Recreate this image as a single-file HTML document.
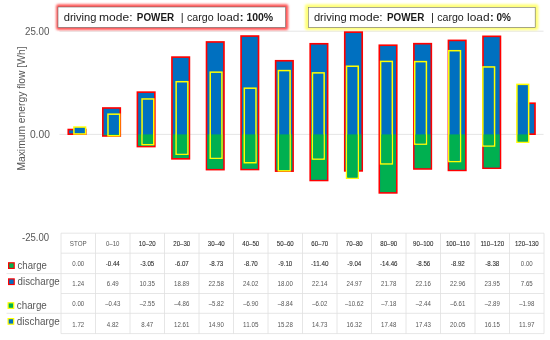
<!DOCTYPE html>
<html><head><meta charset="utf-8"><title>Maximum energy flow</title>
<style>html,body{margin:0;padding:0;background:#fff}svg{display:block;filter:blur(0.45px)}</style></head>
<body>
<svg width="550" height="340" viewBox="0 0 550 340" font-family="'Liberation Sans', sans-serif">
<defs><filter id="gl" x="-5%" y="-30%" width="110%" height="160%"><feGaussianBlur stdDeviation="0.8"/></filter></defs>
<rect width="550" height="340" fill="#fff"/>
<line x1="59.5" x2="543.5" y1="31.2" y2="31.2" stroke="#DEDEDE" stroke-width="0.8"/>
<line x1="59.5" x2="543.5" y1="134.4" y2="134.4" stroke="#DEDEDE" stroke-width="0.8"/>
<rect x="56.10" y="4.30" width="232.20" height="25.60" rx="2" fill="#FF5555" filter="url(#gl)"/>
<rect x="58" y="7.0" width="227.60" height="20.40" fill="#fff" stroke="#6b6b6b" stroke-width="0.6"/>
<rect x="305.00" y="4.30" width="233.40" height="25.70" rx="2" fill="#FFFF78" filter="url(#gl)"/>
<rect x="308.5" y="7.3" width="226.70" height="20.05" fill="#fff" stroke="#6b6b6b" stroke-width="0.6"/>
<text x="63.70" y="21.40" font-size="11.2" fill="#1a1a1a" textLength="32.80" lengthAdjust="spacingAndGlyphs">driving</text>
<text x="99.10" y="21.40" font-size="11.2" fill="#1a1a1a" textLength="33.40" lengthAdjust="spacingAndGlyphs">mode:</text>
<text x="136.80" y="21.40" font-size="11.2" fill="#1a1a1a" textLength="37.30" lengthAdjust="spacingAndGlyphs" font-weight="bold">POWER</text>
<text x="180.70" y="21.40" font-size="11.2" fill="#1a1a1a">|</text>
<text x="187.00" y="21.40" font-size="11.2" fill="#1a1a1a" textLength="26.60" lengthAdjust="spacingAndGlyphs">cargo</text>
<text x="216.90" y="21.40" font-size="11.2" fill="#1a1a1a" textLength="22.50" lengthAdjust="spacingAndGlyphs">load</text>
<text x="239.80" y="21.40" font-size="11.2" fill="#1a1a1a" font-weight="bold">:</text>
<text x="246.40" y="21.40" font-size="11.2" fill="#1a1a1a" textLength="26.80" lengthAdjust="spacingAndGlyphs" font-weight="bold">100%</text>
<text x="313.90" y="21.40" font-size="11.2" fill="#1a1a1a" textLength="32.80" lengthAdjust="spacingAndGlyphs">driving</text>
<text x="349.30" y="21.40" font-size="11.2" fill="#1a1a1a" textLength="33.40" lengthAdjust="spacingAndGlyphs">mode:</text>
<text x="387.00" y="21.40" font-size="11.2" fill="#1a1a1a" textLength="37.30" lengthAdjust="spacingAndGlyphs" font-weight="bold">POWER</text>
<text x="430.90" y="21.40" font-size="11.2" fill="#1a1a1a">|</text>
<text x="437.20" y="21.40" font-size="11.2" fill="#1a1a1a" textLength="26.60" lengthAdjust="spacingAndGlyphs">cargo</text>
<text x="467.10" y="21.40" font-size="11.2" fill="#1a1a1a" textLength="22.50" lengthAdjust="spacingAndGlyphs">load</text>
<text x="490.00" y="21.40" font-size="11.2" fill="#1a1a1a" font-weight="bold">:</text>
<text x="496.40" y="21.40" font-size="11.2" fill="#1a1a1a" textLength="14.40" lengthAdjust="spacingAndGlyphs" font-weight="bold">0%</text>
<rect x="67.45" y="128.71" width="19.1" height="6.29" fill="#FF0000"/>
<rect x="69.10" y="130.36" width="15.80" height="2.99" fill="#0070C0"/>
<rect x="102.01" y="107.17" width="19.1" height="29.62" fill="#FF0000"/>
<rect x="103.66" y="108.82" width="15.80" height="26.32" fill="#0070C0"/>
<rect x="103.66" y="134.40" width="15.80" height="0.74" fill="#00B050"/>
<rect x="136.57" y="91.32" width="19.1" height="56.06" fill="#FF0000"/>
<rect x="138.22" y="92.97" width="15.80" height="52.76" fill="#0070C0"/>
<rect x="138.22" y="134.40" width="15.80" height="11.33" fill="#00B050"/>
<rect x="171.13" y="56.28" width="19.1" height="103.37" fill="#FF0000"/>
<rect x="172.78" y="57.93" width="15.80" height="100.07" fill="#0070C0"/>
<rect x="172.78" y="134.40" width="15.80" height="23.59" fill="#00B050"/>
<rect x="205.69" y="41.13" width="19.1" height="129.31" fill="#FF0000"/>
<rect x="207.34" y="42.78" width="15.80" height="126.01" fill="#0070C0"/>
<rect x="207.34" y="134.40" width="15.80" height="34.39" fill="#00B050"/>
<rect x="240.25" y="35.22" width="19.1" height="135.10" fill="#FF0000"/>
<rect x="241.90" y="36.87" width="15.80" height="131.80" fill="#0070C0"/>
<rect x="241.90" y="134.40" width="15.80" height="34.27" fill="#00B050"/>
<rect x="274.81" y="59.93" width="19.1" height="112.02" fill="#FF0000"/>
<rect x="276.46" y="61.58" width="15.80" height="108.72" fill="#0070C0"/>
<rect x="276.46" y="134.40" width="15.80" height="35.90" fill="#00B050"/>
<rect x="309.37" y="42.94" width="19.1" height="138.35" fill="#FF0000"/>
<rect x="311.02" y="44.59" width="15.80" height="135.05" fill="#0070C0"/>
<rect x="311.02" y="134.40" width="15.80" height="45.23" fill="#00B050"/>
<rect x="343.93" y="31.32" width="19.1" height="140.38" fill="#FF0000"/>
<rect x="345.58" y="32.97" width="15.80" height="137.08" fill="#0070C0"/>
<rect x="345.58" y="134.40" width="15.80" height="35.65" fill="#00B050"/>
<rect x="378.49" y="44.41" width="19.1" height="149.29" fill="#FF0000"/>
<rect x="380.14" y="46.06" width="15.80" height="145.99" fill="#0070C0"/>
<rect x="380.14" y="134.40" width="15.80" height="57.66" fill="#00B050"/>
<rect x="413.05" y="42.86" width="19.1" height="126.90" fill="#FF0000"/>
<rect x="414.70" y="44.51" width="15.80" height="123.60" fill="#0070C0"/>
<rect x="414.70" y="134.40" width="15.80" height="33.70" fill="#00B050"/>
<rect x="447.61" y="39.57" width="19.1" height="131.64" fill="#FF0000"/>
<rect x="449.26" y="41.22" width="15.80" height="128.34" fill="#0070C0"/>
<rect x="449.26" y="134.40" width="15.80" height="35.17" fill="#00B050"/>
<rect x="482.17" y="35.51" width="19.1" height="133.51" fill="#FF0000"/>
<rect x="483.82" y="37.16" width="15.80" height="130.21" fill="#0070C0"/>
<rect x="483.82" y="134.40" width="15.80" height="32.97" fill="#00B050"/>
<rect x="516.73" y="102.40" width="19.1" height="32.60" fill="#FF0000"/>
<rect x="518.38" y="104.05" width="15.80" height="29.30" fill="#0070C0"/>
<rect x="73.15" y="126.33" width="13.2" height="8.37" fill="#FFFF00"/>
<rect x="74.65" y="127.83" width="10.20" height="5.37" fill="#0070C0"/>
<rect x="107.23" y="113.42" width="13.2" height="23.08" fill="#FFFF00"/>
<rect x="108.73" y="114.92" width="10.20" height="20.08" fill="#0070C0"/>
<rect x="108.73" y="134.40" width="10.20" height="0.59" fill="#00B050"/>
<rect x="141.31" y="98.21" width="13.2" height="47.13" fill="#FFFF00"/>
<rect x="142.81" y="99.71" width="10.20" height="44.13" fill="#0070C0"/>
<rect x="142.81" y="134.40" width="10.20" height="9.43" fill="#00B050"/>
<rect x="175.39" y="80.95" width="13.2" height="74.01" fill="#FFFF00"/>
<rect x="176.89" y="82.45" width="10.20" height="71.01" fill="#0070C0"/>
<rect x="176.89" y="134.40" width="10.20" height="19.07" fill="#00B050"/>
<rect x="209.47" y="71.41" width="13.2" height="87.56" fill="#FFFF00"/>
<rect x="210.97" y="72.91" width="10.20" height="84.56" fill="#0070C0"/>
<rect x="210.97" y="134.40" width="10.20" height="23.07" fill="#00B050"/>
<rect x="243.55" y="87.45" width="13.2" height="76.02" fill="#FFFF00"/>
<rect x="245.05" y="88.95" width="10.20" height="73.02" fill="#0070C0"/>
<rect x="245.05" y="134.40" width="10.20" height="27.57" fill="#00B050"/>
<rect x="277.63" y="69.83" width="13.2" height="101.73" fill="#FFFF00"/>
<rect x="279.13" y="71.33" width="10.20" height="98.73" fill="#0070C0"/>
<rect x="279.13" y="134.40" width="10.20" height="35.66" fill="#00B050"/>
<rect x="311.71" y="72.12" width="13.2" height="87.68" fill="#FFFF00"/>
<rect x="313.21" y="73.62" width="10.20" height="84.68" fill="#0070C0"/>
<rect x="313.21" y="134.40" width="10.20" height="23.90" fill="#00B050"/>
<rect x="345.79" y="65.49" width="13.2" height="113.49" fill="#FFFF00"/>
<rect x="347.29" y="66.99" width="10.20" height="110.49" fill="#0070C0"/>
<rect x="347.29" y="134.40" width="10.20" height="43.09" fill="#00B050"/>
<rect x="379.87" y="60.66" width="13.2" height="103.98" fill="#FFFF00"/>
<rect x="381.37" y="62.16" width="10.20" height="100.98" fill="#0070C0"/>
<rect x="381.37" y="134.40" width="10.20" height="28.74" fill="#00B050"/>
<rect x="413.95" y="60.87" width="13.2" height="84.01" fill="#FFFF00"/>
<rect x="415.45" y="62.37" width="10.20" height="81.01" fill="#0070C0"/>
<rect x="415.45" y="134.40" width="10.20" height="8.97" fill="#00B050"/>
<rect x="448.03" y="49.95" width="13.2" height="112.31" fill="#FFFF00"/>
<rect x="449.53" y="51.45" width="10.20" height="109.31" fill="#0070C0"/>
<rect x="449.53" y="134.40" width="10.20" height="26.36" fill="#00B050"/>
<rect x="482.11" y="66.20" width="13.2" height="80.55" fill="#FFFF00"/>
<rect x="483.61" y="67.70" width="10.20" height="77.55" fill="#0070C0"/>
<rect x="483.61" y="134.40" width="10.20" height="10.85" fill="#00B050"/>
<rect x="516.19" y="83.62" width="13.2" height="59.34" fill="#FFFF00"/>
<rect x="517.69" y="85.12" width="10.20" height="56.34" fill="#0070C0"/>
<rect x="517.69" y="134.40" width="10.20" height="7.06" fill="#00B050"/>
<text x="25.00" y="34.60" font-size="10.1" fill="#575757" textLength="24.40" lengthAdjust="spacingAndGlyphs">25.00</text>
<text x="29.90" y="138.00" font-size="10.1" fill="#575757" textLength="20.00" lengthAdjust="spacingAndGlyphs">0.00</text>
<text x="22.00" y="240.70" font-size="10.1" fill="#575757" textLength="27.10" lengthAdjust="spacingAndGlyphs">-25.00</text>
<text transform="translate(24.7,170.6) rotate(-90)" font-size="10.1" fill="#575757" textLength="124.1" lengthAdjust="spacingAndGlyphs">Maximum energy flow [Wh]</text>
<line x1="61.0" x2="544.0" y1="233.2" y2="233.2" stroke="#E0E0E0" stroke-width="0.8"/>
<line x1="61.0" x2="544.0" y1="253.2" y2="253.2" stroke="#E0E0E0" stroke-width="0.8"/>
<line x1="6.5" x2="544.0" y1="273.6" y2="273.6" stroke="#E0E0E0" stroke-width="0.8"/>
<line x1="61.0" x2="544.0" y1="293.5" y2="293.5" stroke="#E0E0E0" stroke-width="0.8"/>
<line x1="6.5" x2="544.0" y1="313.3" y2="313.3" stroke="#E0E0E0" stroke-width="0.8"/>
<line x1="61.0" x2="544.0" y1="333.6" y2="333.6" stroke="#E0E0E0" stroke-width="0.8"/>
<line x1="61.00" x2="61.00" y1="233.2" y2="333.6" stroke="#E0E0E0" stroke-width="0.8"/>
<line x1="95.50" x2="95.50" y1="233.2" y2="333.6" stroke="#E0E0E0" stroke-width="0.8"/>
<line x1="130.00" x2="130.00" y1="233.2" y2="333.6" stroke="#E0E0E0" stroke-width="0.8"/>
<line x1="164.50" x2="164.50" y1="233.2" y2="333.6" stroke="#E0E0E0" stroke-width="0.8"/>
<line x1="199.00" x2="199.00" y1="233.2" y2="333.6" stroke="#E0E0E0" stroke-width="0.8"/>
<line x1="233.50" x2="233.50" y1="233.2" y2="333.6" stroke="#E0E0E0" stroke-width="0.8"/>
<line x1="268.00" x2="268.00" y1="233.2" y2="333.6" stroke="#E0E0E0" stroke-width="0.8"/>
<line x1="302.50" x2="302.50" y1="233.2" y2="333.6" stroke="#E0E0E0" stroke-width="0.8"/>
<line x1="337.00" x2="337.00" y1="233.2" y2="333.6" stroke="#E0E0E0" stroke-width="0.8"/>
<line x1="371.50" x2="371.50" y1="233.2" y2="333.6" stroke="#E0E0E0" stroke-width="0.8"/>
<line x1="406.00" x2="406.00" y1="233.2" y2="333.6" stroke="#E0E0E0" stroke-width="0.8"/>
<line x1="440.50" x2="440.50" y1="233.2" y2="333.6" stroke="#E0E0E0" stroke-width="0.8"/>
<line x1="475.00" x2="475.00" y1="233.2" y2="333.6" stroke="#E0E0E0" stroke-width="0.8"/>
<line x1="509.50" x2="509.50" y1="233.2" y2="333.6" stroke="#E0E0E0" stroke-width="0.8"/>
<line x1="544.00" x2="544.00" y1="233.2" y2="333.6" stroke="#E0E0E0" stroke-width="0.8"/>
<text x="69.85" y="245.90" font-size="7.5" fill="#575757" textLength="16.80" lengthAdjust="spacingAndGlyphs">STOP</text>
<text x="72.31" y="266.10" font-size="6.9" fill="#575757" textLength="11.88" lengthAdjust="spacingAndGlyphs">0.00</text>
<text x="72.31" y="286.00" font-size="6.9" fill="#575757" textLength="11.88" lengthAdjust="spacingAndGlyphs">1.24</text>
<text x="72.31" y="306.20" font-size="6.9" fill="#575757" textLength="11.88" lengthAdjust="spacingAndGlyphs">0.00</text>
<text x="72.31" y="326.50" font-size="6.9" fill="#575757" textLength="11.88" lengthAdjust="spacingAndGlyphs">1.72</text>
<text x="105.99" y="245.90" font-size="6.9" fill="#575757" textLength="13.53" lengthAdjust="spacingAndGlyphs">0–10</text>
<text x="105.70" y="266.10" font-size="6.9" fill="#2a2a2a" textLength="14.09" lengthAdjust="spacingAndGlyphs" stroke="#2a2a2a" stroke-width="0.08">-0.44</text>
<text x="106.81" y="286.00" font-size="6.9" fill="#575757" textLength="11.88" lengthAdjust="spacingAndGlyphs">6.49</text>
<text x="105.14" y="306.20" font-size="6.9" fill="#575757" textLength="15.22" lengthAdjust="spacingAndGlyphs">–0.43</text>
<text x="106.81" y="326.50" font-size="6.9" fill="#575757" textLength="11.88" lengthAdjust="spacingAndGlyphs">4.82</text>
<text x="138.79" y="245.90" font-size="6.9" fill="#2a2a2a" textLength="16.92" lengthAdjust="spacingAndGlyphs" stroke="#2a2a2a" stroke-width="0.08">10–20</text>
<text x="140.20" y="266.10" font-size="6.9" fill="#2a2a2a" textLength="14.09" lengthAdjust="spacingAndGlyphs" stroke="#2a2a2a" stroke-width="0.08">-3.05</text>
<text x="139.61" y="286.00" font-size="6.9" fill="#575757" textLength="15.28" lengthAdjust="spacingAndGlyphs">10.35</text>
<text x="139.64" y="306.20" font-size="6.9" fill="#575757" textLength="15.22" lengthAdjust="spacingAndGlyphs">–2.55</text>
<text x="141.31" y="326.50" font-size="6.9" fill="#575757" textLength="11.88" lengthAdjust="spacingAndGlyphs">8.47</text>
<text x="173.29" y="245.90" font-size="6.9" fill="#2a2a2a" textLength="16.92" lengthAdjust="spacingAndGlyphs" stroke="#2a2a2a" stroke-width="0.08">20–30</text>
<text x="174.70" y="266.10" font-size="6.9" fill="#2a2a2a" textLength="14.09" lengthAdjust="spacingAndGlyphs" stroke="#2a2a2a" stroke-width="0.08">-6.07</text>
<text x="174.11" y="286.00" font-size="6.9" fill="#575757" textLength="15.28" lengthAdjust="spacingAndGlyphs">18.89</text>
<text x="174.14" y="306.20" font-size="6.9" fill="#575757" textLength="15.22" lengthAdjust="spacingAndGlyphs">–4.86</text>
<text x="174.11" y="326.50" font-size="6.9" fill="#575757" textLength="15.28" lengthAdjust="spacingAndGlyphs">12.61</text>
<text x="207.79" y="245.90" font-size="6.9" fill="#2a2a2a" textLength="16.92" lengthAdjust="spacingAndGlyphs" stroke="#2a2a2a" stroke-width="0.08">30–40</text>
<text x="209.20" y="266.10" font-size="6.9" fill="#2a2a2a" textLength="14.09" lengthAdjust="spacingAndGlyphs" stroke="#2a2a2a" stroke-width="0.08">-8.73</text>
<text x="208.61" y="286.00" font-size="6.9" fill="#575757" textLength="15.28" lengthAdjust="spacingAndGlyphs">22.58</text>
<text x="208.64" y="306.20" font-size="6.9" fill="#575757" textLength="15.22" lengthAdjust="spacingAndGlyphs">–5.82</text>
<text x="208.61" y="326.50" font-size="6.9" fill="#575757" textLength="15.28" lengthAdjust="spacingAndGlyphs">14.90</text>
<text x="242.29" y="245.90" font-size="6.9" fill="#2a2a2a" textLength="16.92" lengthAdjust="spacingAndGlyphs" stroke="#2a2a2a" stroke-width="0.08">40–50</text>
<text x="243.70" y="266.10" font-size="6.9" fill="#2a2a2a" textLength="14.09" lengthAdjust="spacingAndGlyphs" stroke="#2a2a2a" stroke-width="0.08">-8.70</text>
<text x="243.11" y="286.00" font-size="6.9" fill="#575757" textLength="15.28" lengthAdjust="spacingAndGlyphs">24.02</text>
<text x="243.14" y="306.20" font-size="6.9" fill="#575757" textLength="15.22" lengthAdjust="spacingAndGlyphs">–6.90</text>
<text x="243.11" y="326.50" font-size="6.9" fill="#575757" textLength="15.28" lengthAdjust="spacingAndGlyphs">11.05</text>
<text x="276.79" y="245.90" font-size="6.9" fill="#2a2a2a" textLength="16.92" lengthAdjust="spacingAndGlyphs" stroke="#2a2a2a" stroke-width="0.08">50–60</text>
<text x="278.20" y="266.10" font-size="6.9" fill="#2a2a2a" textLength="14.09" lengthAdjust="spacingAndGlyphs" stroke="#2a2a2a" stroke-width="0.08">-9.10</text>
<text x="277.61" y="286.00" font-size="6.9" fill="#575757" textLength="15.28" lengthAdjust="spacingAndGlyphs">18.00</text>
<text x="277.64" y="306.20" font-size="6.9" fill="#575757" textLength="15.22" lengthAdjust="spacingAndGlyphs">–8.84</text>
<text x="277.61" y="326.50" font-size="6.9" fill="#575757" textLength="15.28" lengthAdjust="spacingAndGlyphs">15.28</text>
<text x="311.29" y="245.90" font-size="6.9" fill="#2a2a2a" textLength="16.92" lengthAdjust="spacingAndGlyphs" stroke="#2a2a2a" stroke-width="0.08">60–70</text>
<text x="311.01" y="266.10" font-size="6.9" fill="#2a2a2a" textLength="17.49" lengthAdjust="spacingAndGlyphs" stroke="#2a2a2a" stroke-width="0.08">-11.40</text>
<text x="312.11" y="286.00" font-size="6.9" fill="#575757" textLength="15.28" lengthAdjust="spacingAndGlyphs">22.14</text>
<text x="312.14" y="306.20" font-size="6.9" fill="#575757" textLength="15.22" lengthAdjust="spacingAndGlyphs">–6.02</text>
<text x="312.11" y="326.50" font-size="6.9" fill="#575757" textLength="15.28" lengthAdjust="spacingAndGlyphs">14.73</text>
<text x="345.79" y="245.90" font-size="6.9" fill="#2a2a2a" textLength="16.92" lengthAdjust="spacingAndGlyphs" stroke="#2a2a2a" stroke-width="0.08">70–80</text>
<text x="347.20" y="266.10" font-size="6.9" fill="#2a2a2a" textLength="14.09" lengthAdjust="spacingAndGlyphs" stroke="#2a2a2a" stroke-width="0.08">-9.04</text>
<text x="346.61" y="286.00" font-size="6.9" fill="#575757" textLength="15.28" lengthAdjust="spacingAndGlyphs">24.97</text>
<text x="344.94" y="306.20" font-size="6.9" fill="#575757" textLength="18.61" lengthAdjust="spacingAndGlyphs">–10.62</text>
<text x="346.61" y="326.50" font-size="6.9" fill="#575757" textLength="15.28" lengthAdjust="spacingAndGlyphs">16.32</text>
<text x="380.29" y="245.90" font-size="6.9" fill="#2a2a2a" textLength="16.92" lengthAdjust="spacingAndGlyphs" stroke="#2a2a2a" stroke-width="0.08">80–90</text>
<text x="380.01" y="266.10" font-size="6.9" fill="#2a2a2a" textLength="17.49" lengthAdjust="spacingAndGlyphs" stroke="#2a2a2a" stroke-width="0.08">-14.46</text>
<text x="381.11" y="286.00" font-size="6.9" fill="#575757" textLength="15.28" lengthAdjust="spacingAndGlyphs">21.78</text>
<text x="381.14" y="306.20" font-size="6.9" fill="#575757" textLength="15.22" lengthAdjust="spacingAndGlyphs">–7.18</text>
<text x="381.11" y="326.50" font-size="6.9" fill="#575757" textLength="15.28" lengthAdjust="spacingAndGlyphs">17.48</text>
<text x="413.09" y="245.90" font-size="6.9" fill="#2a2a2a" textLength="20.32" lengthAdjust="spacingAndGlyphs" stroke="#2a2a2a" stroke-width="0.08">90–100</text>
<text x="416.20" y="266.10" font-size="6.9" fill="#2a2a2a" textLength="14.09" lengthAdjust="spacingAndGlyphs" stroke="#2a2a2a" stroke-width="0.08">-8.56</text>
<text x="415.61" y="286.00" font-size="6.9" fill="#575757" textLength="15.28" lengthAdjust="spacingAndGlyphs">22.16</text>
<text x="415.64" y="306.20" font-size="6.9" fill="#575757" textLength="15.22" lengthAdjust="spacingAndGlyphs">–2.44</text>
<text x="415.61" y="326.50" font-size="6.9" fill="#575757" textLength="15.28" lengthAdjust="spacingAndGlyphs">17.43</text>
<text x="445.89" y="245.90" font-size="6.9" fill="#2a2a2a" textLength="23.72" lengthAdjust="spacingAndGlyphs" stroke="#2a2a2a" stroke-width="0.08">100–110</text>
<text x="450.70" y="266.10" font-size="6.9" fill="#2a2a2a" textLength="14.09" lengthAdjust="spacingAndGlyphs" stroke="#2a2a2a" stroke-width="0.08">-8.92</text>
<text x="450.11" y="286.00" font-size="6.9" fill="#575757" textLength="15.28" lengthAdjust="spacingAndGlyphs">22.96</text>
<text x="450.14" y="306.20" font-size="6.9" fill="#575757" textLength="15.22" lengthAdjust="spacingAndGlyphs">–6.61</text>
<text x="450.11" y="326.50" font-size="6.9" fill="#575757" textLength="15.28" lengthAdjust="spacingAndGlyphs">20.05</text>
<text x="480.39" y="245.90" font-size="6.9" fill="#2a2a2a" textLength="23.72" lengthAdjust="spacingAndGlyphs" stroke="#2a2a2a" stroke-width="0.08">110–120</text>
<text x="485.20" y="266.10" font-size="6.9" fill="#2a2a2a" textLength="14.09" lengthAdjust="spacingAndGlyphs" stroke="#2a2a2a" stroke-width="0.08">-8.38</text>
<text x="484.61" y="286.00" font-size="6.9" fill="#575757" textLength="15.28" lengthAdjust="spacingAndGlyphs">23.95</text>
<text x="484.64" y="306.20" font-size="6.9" fill="#575757" textLength="15.22" lengthAdjust="spacingAndGlyphs">–2.89</text>
<text x="484.61" y="326.50" font-size="6.9" fill="#575757" textLength="15.28" lengthAdjust="spacingAndGlyphs">16.15</text>
<text x="514.89" y="245.90" font-size="6.9" fill="#2a2a2a" textLength="23.72" lengthAdjust="spacingAndGlyphs" stroke="#2a2a2a" stroke-width="0.08">120–130</text>
<text x="520.81" y="266.10" font-size="6.9" fill="#575757" textLength="11.88" lengthAdjust="spacingAndGlyphs">0.00</text>
<text x="520.81" y="286.00" font-size="6.9" fill="#575757" textLength="11.88" lengthAdjust="spacingAndGlyphs">7.65</text>
<text x="519.14" y="306.20" font-size="6.9" fill="#575757" textLength="15.22" lengthAdjust="spacingAndGlyphs">–1.98</text>
<text x="519.11" y="326.50" font-size="6.9" fill="#575757" textLength="15.28" lengthAdjust="spacingAndGlyphs">11.97</text>
<rect x="8.60" y="262.80" width="5.6" height="5.6" fill="#00B050" stroke="#FF0000" stroke-width="1.2"/>
<text x="17.60" y="268.60" font-size="10.1" fill="#575757" textLength="29.20" lengthAdjust="spacingAndGlyphs">charge</text>
<rect x="8.60" y="278.90" width="5.6" height="5.6" fill="#0070C0" stroke="#FF0000" stroke-width="1.2"/>
<text x="17.60" y="284.50" font-size="10.1" fill="#575757" textLength="42.10" lengthAdjust="spacingAndGlyphs">discharge</text>
<rect x="8.10" y="302.80" width="5.6" height="5.6" fill="#00B050" stroke="#FFFF00" stroke-width="1.2"/>
<text x="16.80" y="308.80" font-size="10.1" fill="#575757" textLength="30.00" lengthAdjust="spacingAndGlyphs">charge</text>
<rect x="8.10" y="318.60" width="5.6" height="5.6" fill="#0070C0" stroke="#FFFF00" stroke-width="1.2"/>
<text x="16.80" y="324.70" font-size="10.1" fill="#575757" textLength="42.90" lengthAdjust="spacingAndGlyphs">discharge</text>
</svg>
</body></html>
